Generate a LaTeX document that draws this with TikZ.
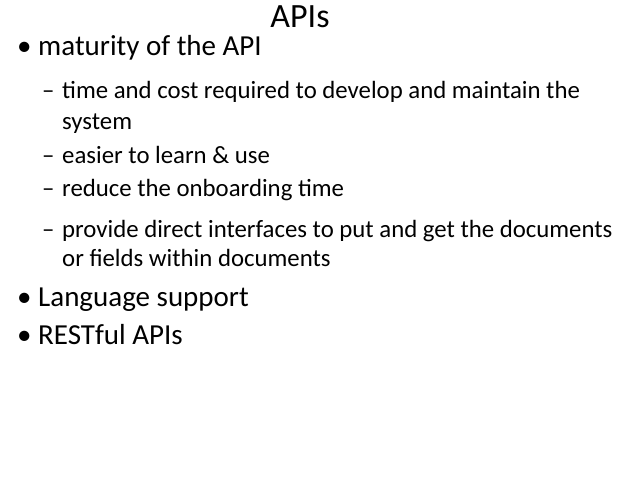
\documentclass[tikz,border=0pt]{standalone}
\usepackage{fontspec}
\setmainfont{Carlito}
\begin{document}
\begin{tikzpicture}[x=1pt,y=-1pt,
  main/.style={anchor=base west,inner sep=0pt,font=\fontsize{29}{32}\selectfont},
  sub/.style={anchor=base west,inner sep=0pt,font=\fontsize{24.8}{28}\selectfont}]
\useasboundingbox[fill=white] (0,0) rectangle (638,478);
\node[anchor=base,inner sep=0pt,font=\fontsize{34}{38}\selectfont] (t) at (300,28) {APIs};
\node[main] (b1) at (17,56) {•};
\node[main] (m1) at (38,56) {maturity of the API};
\node[sub] (d1) at (42,99) {–};
\node[sub] (s1) at (62,99) {time and cost required to develop and maintain the};
\node[sub] (s1b) at (62,130) {system};
\node[sub] (d2) at (42,164) {–};
\node[sub] (s2) at (62,164) {easier to learn \& use};
\node[sub] (d3) at (42,197) {–};
\node[sub] (s3) at (62,197) {reduce the onboarding time};
\node[sub] (d4) at (42,238) {–};
\node[sub] (s4) at (62,238) {provide direct interfaces to put and get the documents};
\node[sub] (s4b) at (62,267) {or fields within documents};
\node[main] (b2) at (17,307) {•};
\node[main] (m2) at (38,307) {Language support};
\node[main] (b3) at (17,345) {•};
\node[main] (m3) at (38,345) {RESTful APIs};
\end{tikzpicture}
\end{document}
